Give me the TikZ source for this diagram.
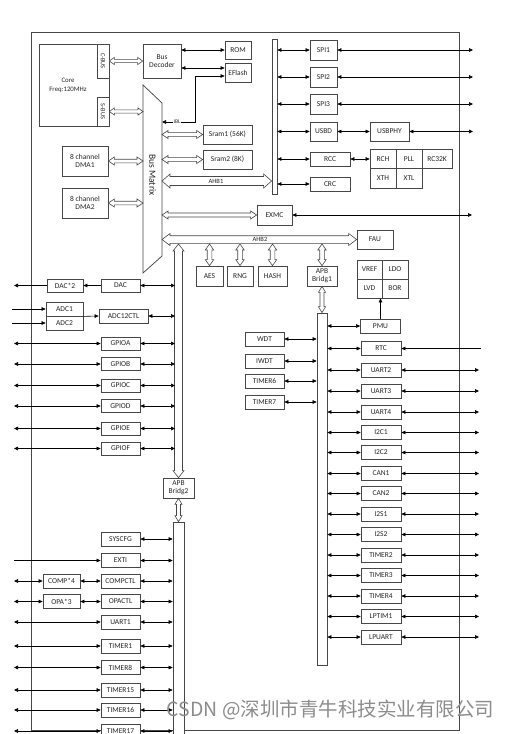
\documentclass[tikz,border=0pt]{standalone}
\usepackage{fontspec}
\usepackage{graphicx}
\setmainfont{Carlito}
\newfontfamily\cjkwm{Noto Sans CJK SC}
\usetikzlibrary{calc,arrows.meta}
% hollow horizontal double arrow: #1 shaft half, #2 head half, #3 head length, #4 left point, #5 right point
\newcommand\harr[5]{%
\draw[hol] let \p1=#4, \p2=#5 in
 (\x1,\y1) -- (\x1+#3pt,\y1+#2pt) -- (\x1+#3pt,\y1+#1pt) -- (\x2-#3pt,\y1+#1pt) -- (\x2-#3pt,\y1+#2pt) -- (\x2,\y1)
 -- (\x2-#3pt,\y1-#2pt) -- (\x2-#3pt,\y1-#1pt) -- (\x1+#3pt,\y1-#1pt) -- (\x1+#3pt,\y1-#2pt) -- cycle;}
% hollow vertical double arrow: #4 top point, #5 bottom point
\newcommand\varr[5]{%
\draw[hol] let \p1=#4, \p2=#5 in
 (\x1,\y1) -- (\x1+#2pt,\y1-#3pt) -- (\x1+#1pt,\y1-#3pt) -- (\x1+#1pt,\y2+#3pt) -- (\x1+#2pt,\y2+#3pt) -- (\x1,\y2)
 -- (\x1-#2pt,\y2+#3pt) -- (\x1-#1pt,\y2+#3pt) -- (\x1-#1pt,\y1-#3pt) -- (\x1-#2pt,\y1-#3pt) -- cycle;}
\begin{document}
\begin{tikzpicture}[x=1pt,y=-1pt,
 bx/.style={draw=black!72, line width=0.75pt, fill=white, inner sep=0pt, font=\fontsize{7.5}{8}\selectfont, text=black!85, align=center},
 lbl/.style={inner sep=0pt, text=black!85, align=center},
 sz/.style 2 args={minimum width=#1pt, minimum height=#2pt},
 bidir/.style={{Triangle[length=4pt,width=3.6pt]}-{Triangle[length=4pt,width=3.6pt]}, line width=0.6pt},
 onedir/.style={-{Triangle[length=4pt,width=3.6pt]}, line width=0.6pt},
 hol/.style={draw=black!72, fill=white, line width=0.6pt},
 barbox/.style={draw=black!72, fill=white, line width=0.75pt, inner sep=0pt},
]
\useasboundingbox (0,0) rectangle (512,734);
\fill[white] (0,0) rectangle (512,734);

% chip frame
\draw[draw=black!72, line width=0.8pt] (31,32) rectangle (459,730);

% free-end coordinates
\coordinate (bmL) at (143,0);
\coordinate (bmR) at (162,0);
\coordinate (Lx) at (14,0);
\coordinate (Lx2) at (12,0);
\coordinate (V) at (175,0);
\coordinate (Rx) at (473,0);
\coordinate (R2) at (479,0);
\coordinate (R3) at (481,0);
\coordinate (Ex) at (472,0);
\coordinate (iblend) at (162,122);
\coordinate (iblc) at (195,0);
\coordinate (ahb2b) at (0,244);

% core
\node[bx,sz={70}{82}] (core) at (74,85) {};
\node[lbl,font=\fontsize{6.8}{9}\selectfont] (coretxt) at (68,85) {Core\\Freq:120MHz};
\node[bx,sz={12}{34},font=\fontsize{6.3}{7}\selectfont] (cbus) at (103,61) {\rotatebox{-90}{C-BUS}};
\node[bx,sz={12}{29},font=\fontsize{6.3}{7}\selectfont] (sbus) at (103,111.5) {\rotatebox{-90}{S-BUS}};

% bus decoder, ROM, EFlash
\node[bx,sz={38}{34}] (dec) at (162,61) {Bus\\Decoder};
\node[bx,sz={26}{18}] (rom) at (238,50) {ROM};
\node[bx,sz={26}{19}] (efl) at (238,72.5) {EFlash};
\draw[bidir] (rom.west -| dec.east) -- (rom.west);
\draw[bidir] ([yshift=4.5pt]efl.west -| dec.east) -- ([yshift=4.5pt]efl.west);
\draw[bidir] (iblend) -- (iblend -| iblc) |- ([yshift=-3.5pt]efl.west);
\node[lbl,fill=white,font=\fontsize{5.5}{6}\selectfont,inner sep=0.6pt] (ibl) at (177,122) {IBL};

% bus matrix
\draw[hol,line width=0.75pt] (143,85) -- (162,103) -- (162,256) -- (143,273) -- cycle;
\node[lbl,rotate=-90,font=\fontsize{9.5}{10}\selectfont] (bmtxt) at (152.5,175) {Bus Matrix};

\harr{1.6}{3.6}{5}{(cbus.east)}{(dec.west)}
\harr{1.6}{3.6}{5}{(sbus.east)}{(sbus.east -| bmL)}

% DMA
\node[bx,sz={46}{30}] (dma1) at (85,161) {8 channel\\DMA1};
\node[bx,sz={46}{30}] (dma2) at (85,203) {8 channel\\DMA2};
\harr{1.8}{4}{6}{(dma1.east)}{(dma1.east -| bmL)}
\harr{1.8}{4}{6}{(dma2.east)}{(dma2.east -| bmL)}

% SRAM
\node[bx,sz={49}{19}] (sram1) at (227.5,134.5) {Sram1 (56K)};
\node[bx,sz={49}{19}] (sram2) at (227.5,159.5) {Sram2 (8K)};
\harr{1.9}{4}{6}{(sram1.west -| bmR)}{(sram1.west)}
\harr{1.9}{4}{6}{(sram2.west -| bmR)}{(sram2.west)}

% AHB1 bar
\node[barbox,sz={5}{155}] (ahb1) at (274.5,116.5) {};
\coordinate (ahb1y) at (0,181);
\harr{4.5}{7}{8}{(ahb1y -| bmR)}{(ahb1y -| ahb1.west)}
\node[lbl,font=\fontsize{6.5}{7}\selectfont] (ahb1txt) at (216,181.5) {AHB1};

% AHB1 peripherals
\node[bx,sz={27}{20}] (spi1) at (323.5,50) {SPI1};
\node[bx,sz={27}{20}] (spi2) at (323.5,77) {SPI2};
\node[bx,sz={27}{20}] (spi3) at (323.5,104) {SPI3};
\node[bx,sz={27}{19}] (usbd) at (323.5,131.5) {USBD};
\node[bx,sz={40}{14}] (rcc) at (330,159) {RCC};
\node[bx,sz={40}{14}] (crc) at (330,184) {CRC};
\node[bx,sz={39}{19}] (usbphy) at (389.5,131.5) {USBPHY};
\foreach \nm in {spi1,spi2,spi3,usbd,rcc,crc} {
  \draw[bidir] (\nm.west -| ahb1.east) -- (\nm.west);
}
\foreach \nm in {spi1,spi2,spi3} {
  \draw[bidir] (\nm.east) -- (\nm.east -| Rx);
}
\draw[bidir] (usbd.east) -- (usbphy.west);
\draw[bidir] (usbphy.east) -- (usbphy.east -| Rx);

% clock grid
\node[bx,sz={26}{19.5}] (rch) at (383,158.75) {RCH};
\node[bx,sz={26}{19.5}] (pll) at (409,158.75) {PLL};
\node[bx,sz={30}{19.5}] (rc32k) at (437,158.75) {RC32K};
\node[bx,sz={26}{19.5}] (xth) at (383,178.25) {XTH};
\node[bx,sz={26}{19.5}] (xtl) at (409,178.25) {XTL};
\draw[bidir] (rcc.east) -- (rcc.east -| rch.west);

% EXMC
\node[bx,sz={35}{20}] (exmc) at (274.5,215) {EXMC};
\harr{2}{4}{6}{(exmc.west -| bmR)}{(exmc.west)}
\draw[bidir] (exmc.east) -- (exmc.east -| Ex);

% AHB2
\node[bx,sz={36}{19}] (fau) at (375,239.5) {FAU};
\harr{3.8}{6}{8}{(fau.west -| bmR)}{(fau.west)}
\node[lbl,font=\fontsize{6.5}{7}\selectfont] (ahb2txt) at (260,239.5) {AHB2};

\node[bx,sz={27}{20}] (aes) at (209.5,276) {AES};
\node[bx,sz={26}{20}] (rng) at (240,276) {RNG};
\node[bx,sz={29}{20}] (hash) at (272.5,276) {HASH};
\node[bx,sz={30}{20}] (apb1) at (322,276) {APB\\Bridg1};
\foreach \nm in {aes,rng,hash,apb1} {
  \varr{2.3}{4.2}{6}{(\nm.north |- ahb2b)}{(\nm.north)}
}

% APB bridge 2 and long vertical link
\node[bx,sz={31}{20}] (apb2) at (178.5,488) {APB\\Bridg2};
\varr{4}{5.5}{7}{(apb2.north |- ahb2b)}{(apb2.north)}
\node[barbox,sz={11}{222}] (bar2) at (178.5,633) {};
\varr{2}{3.6}{6}{(apb2.south)}{(bar2.north)}

% DAC / ADC
\node[bx,sz={39}{13}] (dac) at (120.5,285.5) {DAC};
\node[bx,sz={36}{13}] (dac2) at (65,285.5) {DAC*2};
\draw[bidir] (dac.east) -- (dac.east -| V);
\draw[onedir] (dac.west) -- (dac2.east);
\draw[onedir] (dac2.west) -- (dac2.west -| Lx);
\node[bx,sz={37}{14}] (adc1) at (64.5,309) {ADC1};
\node[bx,sz={37}{14}] (adc2) at (64.5,323) {ADC2};
\node[bx,sz={49}{14}] (adc12) at (123.5,316) {ADC12CTL};
\draw[onedir] (adc1.west -| Lx2) -- (adc1.west);
\draw[onedir] (adc2.west -| Lx2) -- (adc2.west);
\draw[onedir] (adc1.south east) -- (adc12.west);
\draw[bidir] (adc12.east) -- (adc12.east -| V);

% GPIO
\foreach \n/\y in {A/343.5,B/364,C/385.5,D/406,E/428.5,F/448.5} {
  \node[bx,sz={39}{13}] (gpio\n) at (120.5,\y) {GPIO\n};
  \draw[bidir] (gpio\n.west -| Lx) -- (gpio\n.west);
  \draw[bidir] (gpio\n.east) -- (gpio\n.east -| V);
}

% APB2 peripherals
\node[bx,sz={39}{14}] (syscfg) at (120.5,539) {SYSCFG};
\draw[bidir] (syscfg.east) -- (syscfg.east -| bar2.west);
\node[bx,sz={39}{14}] (exti) at (120.5,560.5) {EXTI};
\draw[onedir] (exti.west -| Lx) -- (exti.west);
\draw[bidir] (exti.east) -- (exti.east -| bar2.west);
\node[bx,sz={39}{14}] (compctl) at (120.5,581) {COMPCTL};
\node[bx,sz={37}{14}] (comp) at (61.5,581) {COMP*4};
\node[bx,sz={39}{14}] (opactl) at (120.5,601.5) {OPACTL};
\node[bx,sz={37}{14}] (opa) at (61.5,601.5) {OPA*3};
\foreach \a/\b in {comp/compctl,opa/opactl} {
  \draw[bidir] (\a.west -| Lx) -- (\a.west);
  \draw[bidir] (\a.east) -- (\b.west);
  \draw[bidir] (\b.east) -- (\b.east -| bar2.west);
}
\foreach \nm/\t/\y in {uart1/UART1/622,tima/TIMER1/646,timb/TIMER8/667.5,timc/TIMER15/690,timd/TIMER16/710,time/TIMER17/731} {
  \node[bx,sz={39}{14}] (\nm) at (120.5,\y) {\t};
  \draw[bidir] (\nm.west -| Lx) -- (\nm.west);
  \draw[bidir] (\nm.east) -- (\nm.east -| bar2.west);
}

% APB1 bar and peripherals
\node[barbox,sz={10}{352}] (bar1) at (322,489) {};
\varr{2}{3.6}{6}{(apb1.south)}{(bar1.north)}

\node[bx,sz={25}{19}] (vref) at (369.5,269.5) {VREF};
\node[bx,sz={26}{19}] (ldo) at (395,269.5) {LDO};
\node[bx,sz={25}{19}] (lvd) at (369.5,288.5) {LVD};
\node[bx,sz={26}{19}] (bor) at (395,288.5) {BOR};
\node[bx,sz={40}{14}] (pmu) at (380.5,326) {PMU};
\draw[onedir] (pmu.north) -- (pmu.north |- lvd.south);
\draw[bidir] (pmu.west -| bar1.east) -- (pmu.west);

\node[bx,sz={40}{14}] (rtc) at (381,348.5) {RTC};
\draw[bidir] (rtc.west -| bar1.east) -- (rtc.west);
\draw[onedir] (rtc.east -| R3) -- (rtc.east);

\foreach \nm/\t/\y in {ua2/UART2/370,ua3/UART3/391,ua4/UART4/412,ica/I2C1/432.5,icb/I2C2/452.5,cana/CAN1/473.5,canb/CAN2/493.5,isa/I2S1/514,isb/I2S2/534.5,tm2/TIMER2/555,tm3/TIMER3/575.5,tm4/TIMER4/596,lpt/LPTIM1/616.5,lpu/LPUART/637} {
  \node[bx,sz={40}{14}] (\nm) at (381,\y) {\t};
  \draw[bidir] (\nm.west -| bar1.east) -- (\nm.west);
  \draw[bidir] (\nm.east) -- (\nm.east -| R2);
}

\foreach \nm/\t/\y in {wdt/WDT/339,iwdt/IWDT/361,tm6/TIMER6/381,tm7/TIMER7/402} {
  \node[bx,sz={39}{14}] (\nm) at (264.5,\y) {\t};
  \draw[bidir] (\nm.east) -- (\nm.east -| bar1.west);
}

% watermark
\node[lbl,text=black!45,font=\cjkwm\fontsize{19.5}{20}\selectfont] (wm) at (330.5,710) {CSDN @深圳市青牛科技实业有限公司};
\end{tikzpicture}
\end{document}
